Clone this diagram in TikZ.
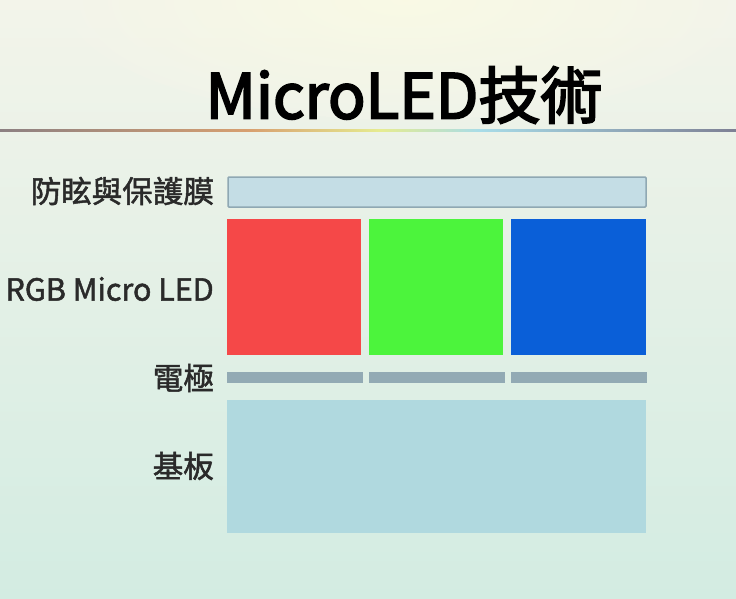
\documentclass[tikz,border=0pt]{standalone}
\usepackage{fontspec}
\setmainfont{Noto Sans CJK TC}
\newfontfamily\titlefont{Noto Sans CJK TC}[FakeBold=3]
\newfontfamily\cjk{Noto Sans CJK TC}[FakeBold=1.6]
\usetikzlibrary{shadings}
\definecolor{bgtop}{HTML}{F3F4EA}
\definecolor{bgbot}{HTML}{D3ECE2}
\definecolor{filmfill}{HTML}{C4DDE5}
\definecolor{filmline}{HTML}{8FA8B3}
\definecolor{ledred}{HTML}{F54848}
\definecolor{ledgreen}{HTML}{4CF43C}
\definecolor{ledblue}{HTML}{0A5FD8}
\definecolor{elec}{HTML}{92AAB4}
\definecolor{subfill}{HTML}{B0D9DF}
\definecolor{txt}{HTML}{2A2A2A}
\definecolor{ruleL}{HTML}{8C8082}
\definecolor{ruleO}{HTML}{D8A070}
\definecolor{ruleY}{HTML}{E6EC90}
\definecolor{ruleC}{HTML}{A8DCE8}
\definecolor{ruleR}{HTML}{7E8094}
\tikzset{
  layer/.style={draw=none, inner sep=0pt, outer sep=0pt, anchor=north west},
  lbl/.style={anchor=east, inner sep=0pt, text=txt, font=\cjk\fontsize{30.5}{32}\selectfont},
}
\begin{document}
\begin{tikzpicture}[x=1pt,y=-1pt]
\useasboundingbox (0,0) rectangle (736,598);
% background
\shade[top color=bgtop, bottom color=bgbot] (0,0) rectangle (736,598);
\shade[inner color=yellow!12!white, outer color=bgtop, opacity=0.5] (405,0) ellipse (340 and 120);
% title
\node[inner sep=0pt, text=black, font=\titlefont\fontsize{62}{66}\selectfont] (title) at (404,95) {MicroLED技術};
% rainbow rule
\shade[left color=ruleL, right color=ruleO] (0,129) rectangle (250,131.5);
\shade[left color=ruleO, right color=ruleY] (250,129) rectangle (380,131.5);
\shade[left color=ruleY, right color=ruleC] (380,129) rectangle (480,131.5);
\shade[left color=ruleC, right color=ruleR] (480,129) rectangle (736,131.5);
% layers
\node[layer, draw=filmline, line width=1.5pt, fill=filmfill, rounded corners=1pt, minimum width=418pt, minimum height=30pt] (film) at (228,177) {};
\node[layer, fill=ledred, minimum width=134pt, minimum height=136pt] (red) at (227,219) {};
\node[layer, fill=ledgreen, minimum width=134pt, minimum height=136pt] (green) at (369,219) {};
\node[layer, fill=ledblue, minimum width=135pt, minimum height=136pt] (blue) at (511,219) {};
\node[layer, fill=elec, minimum width=136pt, minimum height=11pt] (e1) at (227,372) {};
\node[layer, fill=elec, minimum width=136pt, minimum height=11pt] (e2) at (369,372) {};
\node[layer, fill=elec, minimum width=136pt, minimum height=11pt] (e3) at (511,372) {};
\node[layer, fill=subfill, minimum width=419pt, minimum height=133pt] (sub) at (227,400) {};
% labels
\node[lbl] (lfilm) at (214,191) {防眩與保護膜};
\node[lbl] (lled) at (214,289) {RGB Micro LED};
\node[lbl] (lelec) at (214,378) {電極};
\node[lbl] (lsub) at (214,466) {基板};
\end{tikzpicture}
\end{document}
